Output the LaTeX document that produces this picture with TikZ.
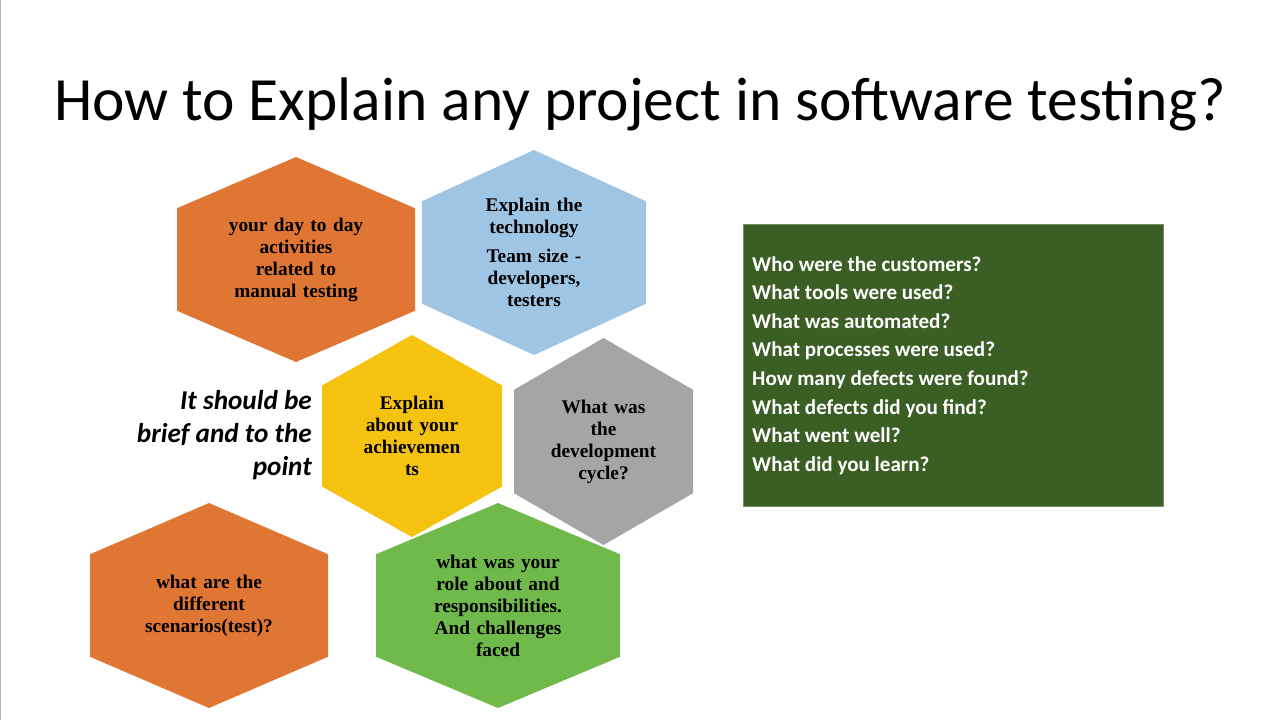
\documentclass[tikz,border=0pt]{standalone}
\usepackage{fontspec}
\setmainfont{Liberation Serif}
\newfontfamily\calib{Carlito}
\definecolor{hexorange}{HTML}{E07634}
\definecolor{hexblue}{HTML}{9FC5E4}
\definecolor{hexyellow}{HTML}{F5C30F}
\definecolor{hexgray}{HTML}{A5A5A5}
\definecolor{hexgreen}{HTML}{70B94B}
\definecolor{boxgreen}{HTML}{3B5E24}
% hexagon: name, cx, cy, width, height, colour, text
\newcommand{\hexa}[7]{%
  \fill[#6] (#2,#3-#5/2) -- (#2+#4/2,#3-#5/4) -- (#2+#4/2,#3+#5/4)
    -- (#2,#3+#5/2) -- (#2-#4/2,#3+#5/4) -- (#2-#4/2,#3-#5/4) -- cycle;
  \node[hextext] (#1) at (#2,#3) {#7};}
\tikzset{hextext/.style={align=center, font=\bfseries\fontsize{11}{12.5}\selectfont, text width=#1},
  hextext/.default=3.2cm}
\begin{document}
\begin{tikzpicture}[x=0.02cm,y=-0.02cm]
\useasboundingbox[fill=white] (0,0) rectangle (1280,720);
\draw[gray!60] (0.5,0) -- (0.5,720);

% Title
\node[font=\calib\fontsize{35}{40}\selectfont] (title) at (640,104) {How to Explain any project in software testing?};

% Hexagons
\hexa{daytoday}{296}{259.5}{238}{205}{hexorange}{your day to day\\activities\\related to\\manual testing}
\hexa{tech}{534}{252.5}{224}{205}{hexblue}{Explain the\\technology\\[4pt]Team size -\\developers,\\testers}
\hexa{achieve}{412}{436}{180}{202}{hexyellow}{Explain\\about your\\achievemen\\ts}
\hexa{cycle}{603.5}{441.5}{179}{207}{hexgray}{What was\\the\\development\\cycle?}
\hexa{scenario}{209}{605.5}{238}{205}{hexorange}{what are the\\different\\scenarios(test)?}
\hexa{role}{498}{605.5}{244}{205}{hexgreen}{what was your\\role about and\\responsibilities.\\And challenges\\faced}

% Side note
\node[anchor=east, align=right, font=\calib\bfseries\itshape\fontsize{15.5}{19}\selectfont] (brief) at (318,435)
  {It should be\\brief and to the\\point};

% Question box
\node[fill=boxgreen, draw=boxgreen!70!white, minimum width=420*0.02cm, minimum height=282*0.02cm, anchor=north west] (qbox) at (743,224) {};
\node[anchor=north west, align=left, text=white, font=\calib\bfseries\fontsize{12}{16.3}\selectfont] (qtext) at (746,250)
  {Who were the customers?\\What tools were used?\\What was automated?\\What processes were used?\\How many defects were found?\\What defects did you find?\\What went well?\\What did you learn?};
\end{tikzpicture}
\end{document}
